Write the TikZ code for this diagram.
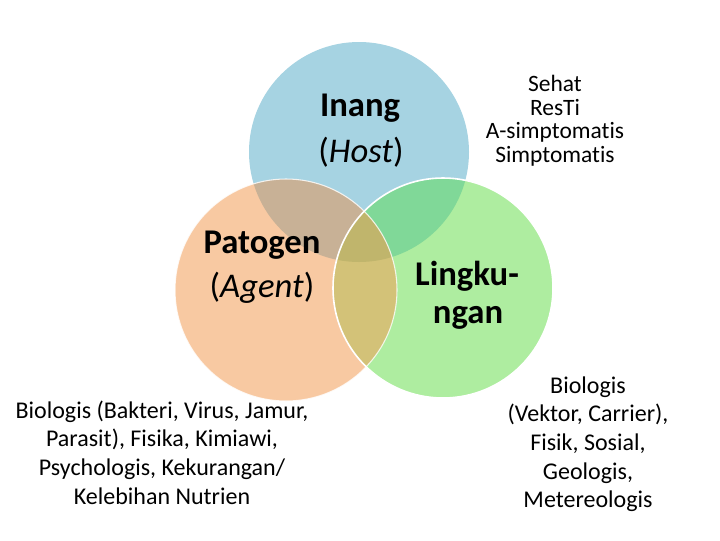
\documentclass[tikz,border=0pt]{standalone}
\usepackage{fontspec}
\setmainfont{Carlito}[Ligatures={NoCommon}]
\definecolor{blueC}{RGB}{166,211,226}
\definecolor{orangeC}{RGB}{248,201,162}
\definecolor{greenC}{RGB}{174,237,160}
\definecolor{BOc}{RGB}{200,177,150}
\definecolor{BGc}{RGB}{128,216,152}
\definecolor{OGc}{RGB}{211,194,120}
\definecolor{BOGc}{RGB}{192,181,108}
\begin{document}
\begin{tikzpicture}[x=0.75pt,y=-0.75pt,
  biglabel/.style={anchor=base,inner sep=0pt,font=\fontsize{26}{30}\selectfont},
  smalltext/.style={align=center,inner sep=0pt,anchor=base,font=\fontsize{18}{21.5}\selectfont},
  toptext/.style={align=center,inner sep=0pt,anchor=base,font=\fontsize{17.6}{17.6}\selectfont}]
\useasboundingbox (0,0) rectangle (720,540);
\fill[white] (0,0) rectangle (720,540);
% circles
\def\Bc{(359,152) circle[radius=110]}
\def\Oc{(286,290) circle[radius=111]}
\def\Gc{(443,288) circle[radius=110]}
\fill[blueC] \Bc;
\fill[orangeC] \Oc;
\fill[greenC] \Gc;
\begin{scope}\clip \Bc; \fill[BOc] \Oc; \end{scope}
\begin{scope}\clip \Bc; \fill[BGc] \Gc; \end{scope}
\begin{scope}\clip \Oc; \fill[OGc] \Gc; \end{scope}
\begin{scope}\clip \Bc; \clip \Oc; \fill[BOGc] \Gc; \end{scope}
\draw[white,line width=0.8pt,opacity=0.8] \Oc;
\draw[white,line width=1.2pt] \Gc;
% labels
\node[biglabel] (inang) at (360,116) {\textbf{Inang}};
\node[biglabel] (host) at (361,162) {(\textit{Host})};
\node[biglabel] (patogen) at (262,253) {\textbf{Patogen}};
\node[biglabel] (agent) at (262,297) {(\textit{Agent})};
\node[biglabel] (lingku) at (467,285) {\textbf{Lingku-}};
\node[biglabel] (ngan) at (468,323) {\textbf{ngan}};
\node[toptext] (host-state) at (555,162) {Sehat\\ResTi\\A-simptomatis\\Simptomatis};
\node[smalltext] (agent-list) at (162,504) {Biologis (Bakteri, Virus, Jamur,\\Parasit), Fisika, Kimiawi,\\Psychologis, Kekurangan/\\Kelebihan Nutrien};
\node[smalltext] (env-list) at (588,507.8) {Biologis\\(Vektor, Carrier),\\Fisik, Sosial,\\Geologis,\\Metereologis};
\end{tikzpicture}
\end{document}
